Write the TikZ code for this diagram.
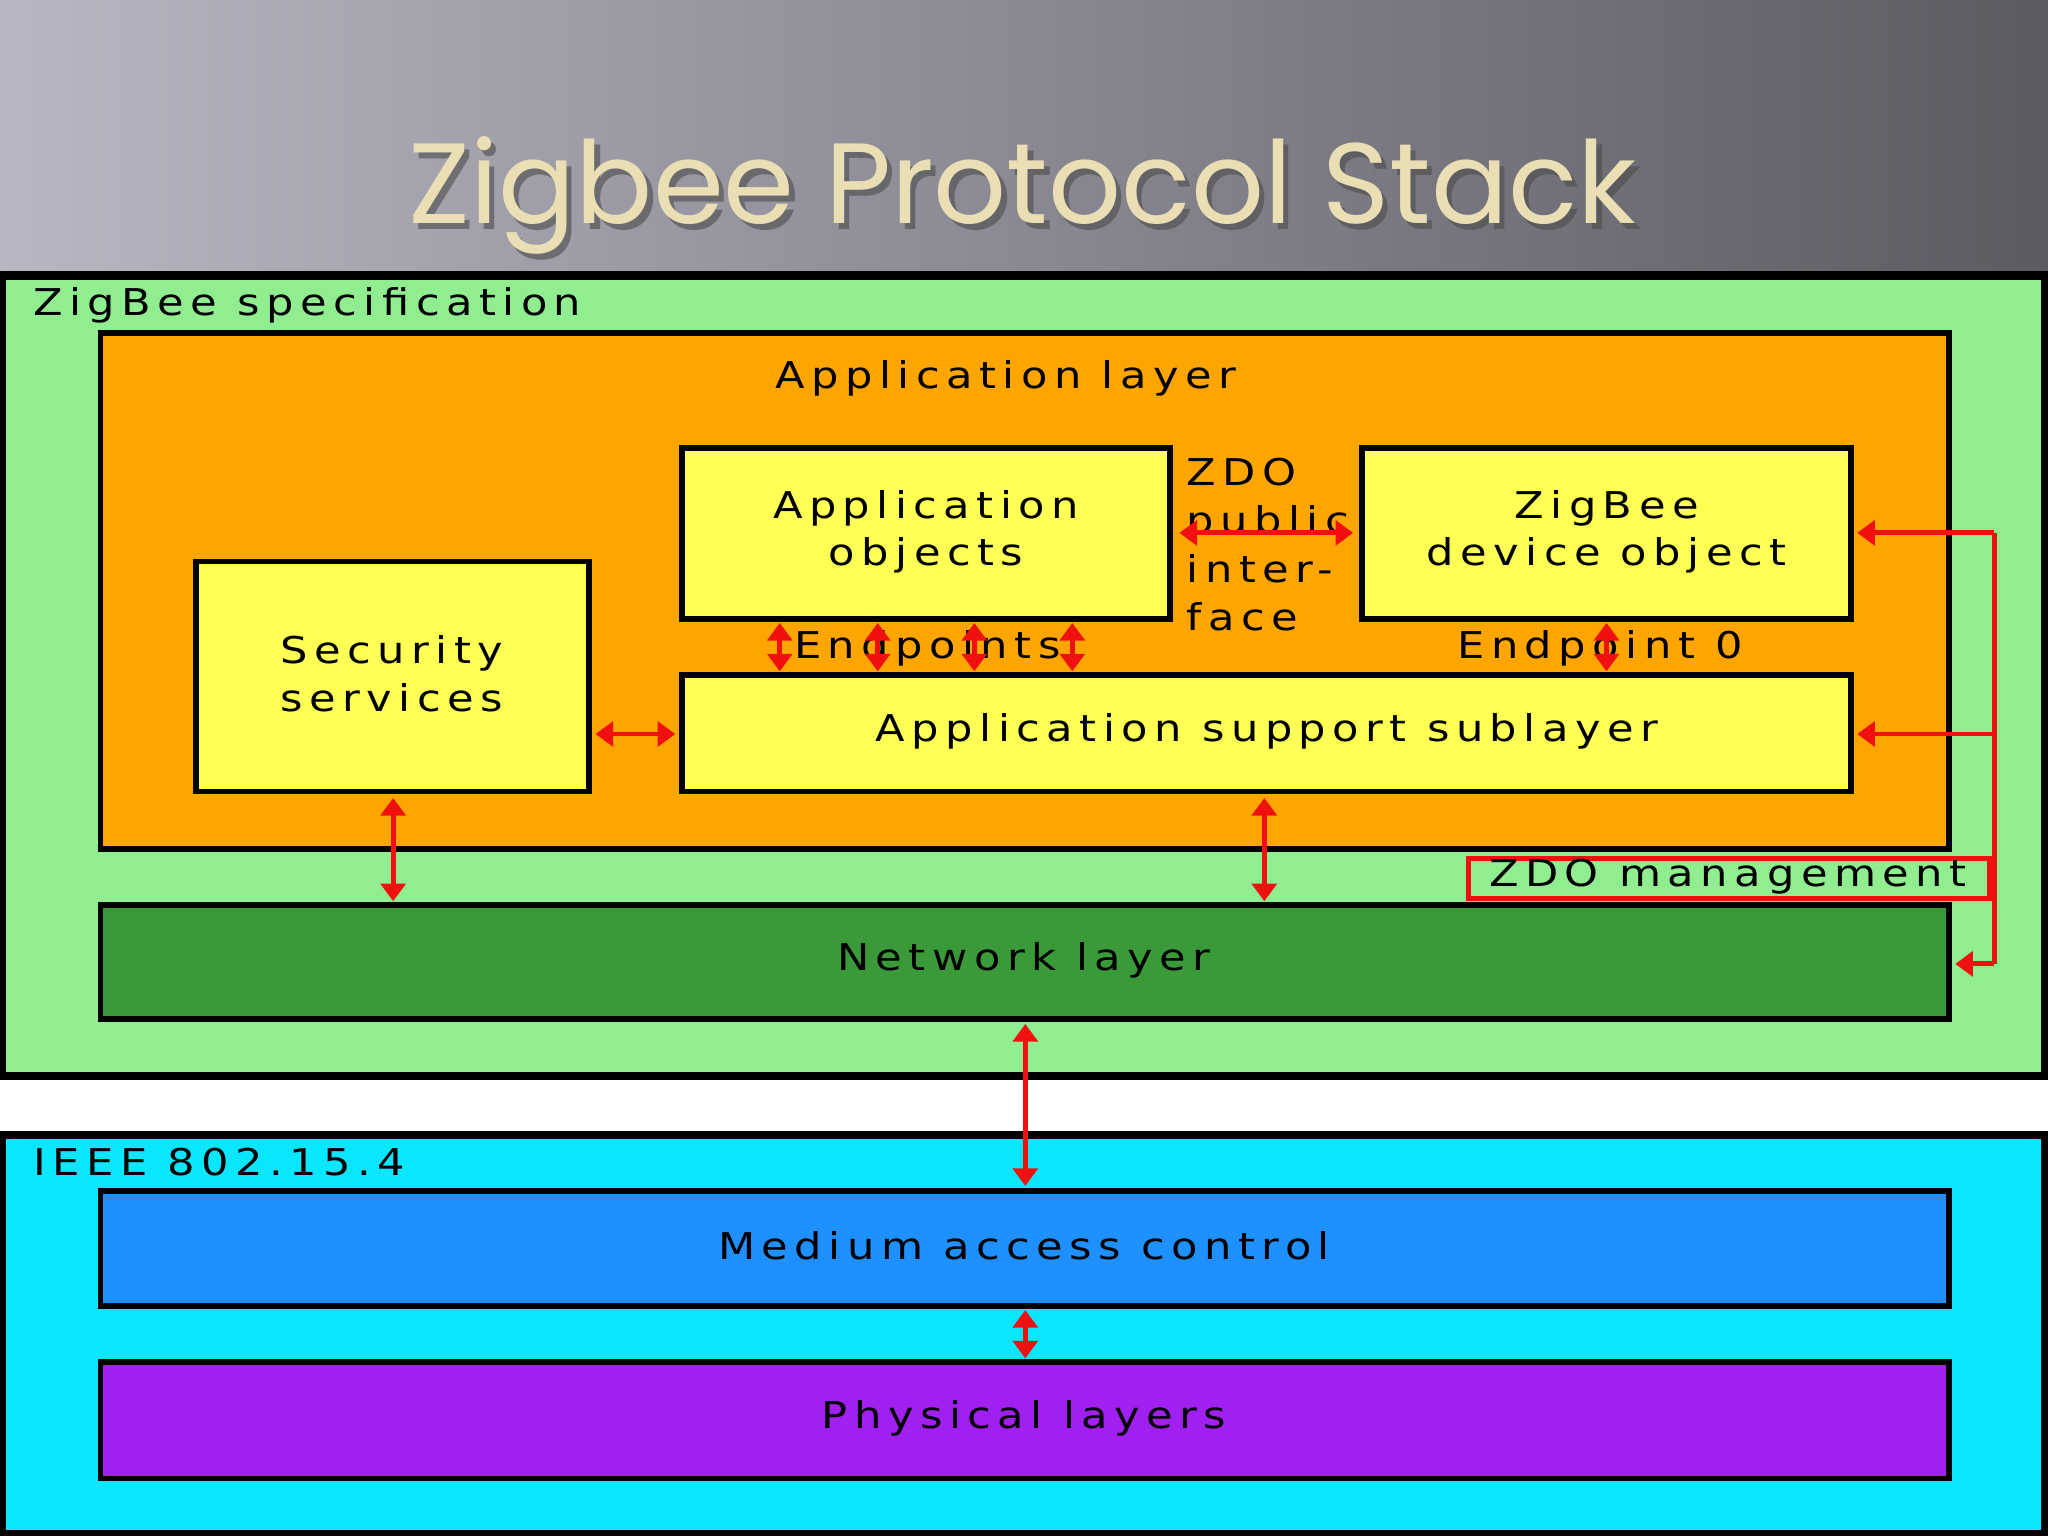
\documentclass[tikz,border=0pt]{standalone}
\usepackage{fontspec}
\setmainfont{DejaVu Sans}[LetterSpace=15]
\newfontfamily\titlefont{Poppins}
\usetikzlibrary{arrows.meta}
\definecolor{zgreen}{HTML}{90EE90}
\definecolor{zorange}{HTML}{FFA500}
\definecolor{zyellow}{HTML}{FFFF55}
\definecolor{zdark}{HTML}{3A9A3A}
\definecolor{zcyan}{HTML}{0BE6FF}
\definecolor{zblue}{HTML}{1E90FF}
\definecolor{zpurple}{HTML}{A020F0}
\definecolor{zred}{HTML}{F01010}
\definecolor{ztitle}{HTML}{EADFB4}
\begin{document}
\begin{tikzpicture}[x=0.013061cm,y=-0.013061cm,
  box/.style={draw=black,line width=1.6pt},
  txt/.style={font=\fontsize{10.5}{13.5}\selectfont,align=center,inner sep=0,xscale=1.17},
  arr/.style={draw=zred,line width=1.4pt,{Triangle[length=5pt,width=7pt]}-{Triangle[length=5pt,width=7pt]}},
  arrl/.style={draw=zred,line width=1.4pt,-{Triangle[length=5pt,width=7pt]}}]
\useasboundingbox (0,0) rectangle (1568,1176);
\fill[white] (0,0) rectangle (1568,1176);
\shade[left color={rgb,255:red,184;green,182;blue,194}, right color={rgb,255:red,92;green,91;blue,98}] (0,0) rectangle (1568,210);
\node[font=\titlefont\fontsize{32.5}{38}\selectfont, text=black!70, opacity=0.6] at (787,154) {Zigbee Protocol Stack};
\node[font=\titlefont\fontsize{32.5}{38}\selectfont, text=ztitle] (title) at (783,150) {Zigbee Protocol Stack};
% ZigBee spec
\draw[box,fill=zgreen,line width=2.4pt] (1,211) rectangle (1566,824);
\node[txt,anchor=west] (spec) at (25,234) {ZigBee specification};
\draw[box,fill=zorange] (77,255) rectangle (1492,650);
\node[txt] (al) at (770,290) {Application layer};
\draw[box,fill=zyellow] (522,343) rectangle (896,474);
\node[txt] (ao) at (709,407) {Application\\objects};
\draw[box,fill=zyellow] (1043,343) rectangle (1417,474);
\node[txt] (zdo) at (1230,407) {ZigBee\\device object};
\node[txt,align=left,anchor=north west,font=\fontsize{10.5}{13.8}\selectfont] (pub) at (908,350) {ZDO\\public\\inter-\\face};
\draw[box,fill=zyellow] (150,430) rectangle (451,606);
\node[txt] (sec) at (300,516) {Security\\services};
\draw[box,fill=zyellow] (522,517) rectangle (1417,606);
\node[txt] (aps) at (970,560) {Application support sublayer};
\node[txt] (ep) at (710,496) {Endpoints};
\node[txt] (ep0) at (1225,496) {Endpoint 0};
\draw[box,fill=zdark] (77,693) rectangle (1492,780);
\node[txt] (net) at (784,735) {Network layer};
\draw[zred,line width=1.4pt,fill=zgreen] (1124,657) rectangle (1523,688);
\node[txt] (zm) at (1323,671) {ZDO management};
% arrows
\coordinate (a1) at (903,408); \coordinate (a2) at (1036,408);
\draw[arr] (a1) -- (a2);
\foreach \x in {597,672,746,821}{\draw[arr] (\x,477) -- (\x,514);}
\draw[arr] (1230,477) -- (1230,514);
\coordinate (s1) at (456,562); \coordinate (s2) at (517,562);
\draw[arr] (s1) -- (s2);
\draw[arr] (301,611) -- (301,690);
\draw[arr] (968,611) -- (968,690);
\draw[zred,line width=1.4pt] (1527,408) -- (1527,738);
\draw[arrl] (1527,408) -- (1422,408);
\draw[arrl] (1527,562) -- (1422,562);
\draw[arrl] (1527,738) -- (1497,738);
% IEEE
\draw[box,fill=zcyan,line width=2.4pt] (1,869) rectangle (1566,1175);
\node[txt,anchor=west] (ieee) at (25,890) {IEEE 802.15.4};
\draw[box,fill=zblue] (77,912) rectangle (1492,1000);
\node[txt] (mac) at (784,954) {Medium access control};
\draw[box,fill=zpurple] (77,1043) rectangle (1492,1132);
\node[txt] (phy) at (784,1086) {Physical layers};
\draw[arr] (785,784) -- (785,908);
\draw[arr] (785,1003) -- (785,1040);
\end{tikzpicture}
\end{document}
